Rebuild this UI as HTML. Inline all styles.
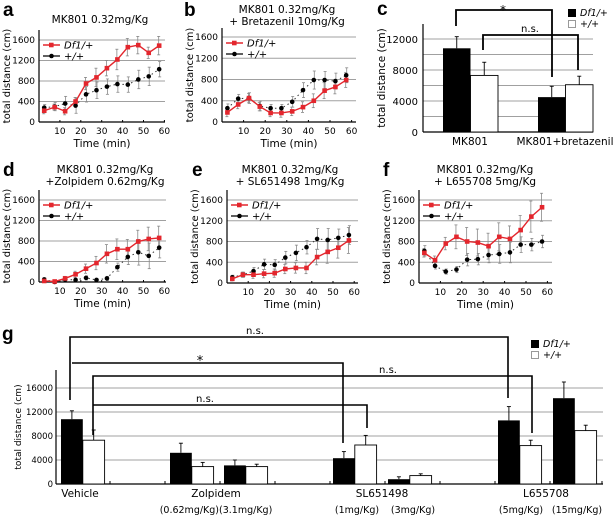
<!DOCTYPE html>
<html><head><meta charset="utf-8"><style>
html,body{margin:0;padding:0;background:#fff;}
svg{display:block;font-family:"DejaVu Sans","Liberation Sans",sans-serif;}
</style></head><body>
<svg id="fig" width="615" height="518" viewBox="0 0 615 518" xmlns="http://www.w3.org/2000/svg"></svg>
<script>
// ---- data ----
const times = [2.5,7.5,12.5,17.5,22.5,27.5,32.5,37.5,42.5,47.5,52.5,57.5];
const xTicks = [10,20,30,40,50,60];
const yTicksLine = [0,400,800,1200,1600];
const aDf = [220,290,210,400,750,870,1050,1220,1460,1500,1350,1490];
const aDfErr = [60,60,70,80,120,180,150,200,170,170,110,180];
const aWt = [280,300,360,320,540,620,690,740,730,830,890,1030];
const aWtErr = [60,80,140,150,150,160,150,160,150,180,180,150];
const bDf = [180,330,450,290,170,170,200,280,400,590,660,790];
const bDfErr = [80,80,90,80,70,80,80,100,130,150,130,140];
const bWt = [260,440,450,300,260,260,380,600,790,790,770,880];
const bWtErr = [80,80,100,90,70,70,100,140,170,160,150,140];
const dDf = [20,10,70,150,260,370,550,640,640,790,840,860];
const dDfErr = [30,20,40,60,90,130,180,200,190,220,230,230];
const dWt = [50,0,50,40,80,40,70,290,490,580,510,670];
const dWtErr = [30,20,30,30,40,30,40,80,150,250,250,200];
const eDf = [80,160,160,180,190,270,290,290,500,600,680,820];
const eDfErr = [40,50,70,80,80,90,100,110,150,220,200,250];
const eWt = [110,160,230,360,350,490,580,690,850,830,870,925];
const eWtErr = [40,50,70,100,100,120,150,130,200,220,170,180];
const fDf = [580,440,760,890,800,780,710,890,850,1020,1280,1460];
const fDfErr = [80,80,120,230,270,260,250,270,250,280,300,270];
const fWt = [620,330,220,260,450,460,540,560,590,740,740,800];
const fWtErr = [100,60,50,60,120,110,150,180,200,150,120,120];
const cCats = ["MK801","MK801+bretazenil"];
const cDf = [10800,4500];
const cDfErr = [1500,1400];
const cWt = [7300,6100];
const cWtErr = [1700,1100];
const cTicks = [0,4000,8000,12000];
const gDf = [10800,5200,3100,4300,800,10600,14300];
const gDfErr = [1400,1600,900,1100,400,2300,2700];
const gWt = [7300,2900,2900,6500,1400,6400,8900];
const gWtErr = [1700,700,400,1600,300,900,900];
const gTicks = [0,4000,8000,12000,16000];

const NS="http://www.w3.org/2000/svg";
const svg=document.getElementById('fig');
function mk(tag,attrs,parent){const e=document.createElementNS(NS,tag);for(const k in attrs)e.setAttribute(k,attrs[k]);(parent||svg).appendChild(e);return e;}
function txt(s,x,y,size,anchor,extra,parent){const t=mk('text',Object.assign({x:x,y:y,'font-size':size,'text-anchor':anchor||'middle',fill:'#000'},extra||{}),parent);t.textContent=s;return t;}

const RED="#e3262d";
function linePanel(P){
  const g=mk('g',{});
  
  
  const sx=t=>P.t0+P.per10*t/10;
  const sy=v=>P.y0-(P.y0-P.y16)*v/1600;
  const L=txt(P.id,P.lx,P.ly,19,'start',{'font-weight':'bold','font-family':'Liberation Sans,sans-serif'},g);
  
  
  P.title.forEach((s,i)=>{const t=txt(s,P.tx,P.ty+i*12,10.5,'middle',{},g);
    
    });
  yTicksLine.forEach(v=>{
    if(v>0){const gl=mk('line',{x1:P.t0,x2:P.right,y1:sy(v),y2:sy(v),stroke:'#a0a0a0','stroke-width':1},g);
      
      }
    const t=txt(String(v),P.t0-4,sy(v)+3,9,'end',{},g);
    
    
  });
  xTicks.forEach(v=>{const t=txt(String(v),sx(v),P.y0+12,9,'middle',{},g);
    
    
    mk('line',{x1:sx(v),x2:sx(v),y1:P.y0,y2:P.y0-2,stroke:'#000'},g);});
  mk('line',{x1:P.t0,x2:P.t0,y1:P.top,y2:P.y0,stroke:'#000','stroke-width':1.2},g);
  mk('line',{x1:P.t0,x2:P.right,y1:P.y0,y2:P.y0,stroke:'#000','stroke-width':1.2},g);
  const xt=txt('Time (min)',(P.t0+P.right)/2,P.y0+25,10.5,'middle',{},g);
  
  
  const yt=txt('total distance (cm)',0,0,10,'middle',{transform:`translate(${P.t0-29},${(P.top+P.y0)/2}) rotate(-90)`},g);
  
  
  function errs(vals,er,col,dx){vals.forEach((v,i)=>{const x=sx(times[i])+dx;
    mk('line',{x1:x,x2:x,y1:sy(v+er[i]),y2:sy(Math.max(0,v-er[i])),stroke:col,'stroke-width':0.8},g);
    mk('line',{x1:x-1.5,x2:x+1.5,y1:sy(v+er[i]),y2:sy(v+er[i]),stroke:col,'stroke-width':0.8},g);
    mk('line',{x1:x-1.5,x2:x+1.5,y1:sy(Math.max(0,v-er[i])),y2:sy(Math.max(0,v-er[i])),stroke:col,'stroke-width':0.8},g);});}
  errs(P.wt,P.wtErr,'#888',0.5);
  errs(P.df,P.dfErr,'#888',-0.5);
  const wl=mk('polyline',{points:P.wt.map((v,i)=>sx(times[i])+','+sy(v)).join(' '),fill:'none',stroke:'#333','stroke-width':1,'stroke-dasharray':'1.5,3'},g);
  
  
  P.wt.forEach((v,i)=>{const c=mk('circle',{cx:sx(times[i]),cy:sy(v),r:2.3,fill:'#000'},g);
    
    });
  const dl=mk('polyline',{points:P.df.map((v,i)=>sx(times[i])+','+sy(v)).join(' '),fill:'none',stroke:RED,'stroke-width':1.4},g);
  
  
  P.df.forEach((v,i)=>{const r=mk('rect',{x:sx(times[i])-2.3,y:sy(v)-2.3,width:4.6,height:4.6,fill:RED},g);
    
    });
  const lx=P.t0+4, ly=P.top+15;
  const lg=mk('g',{},g);
  
  
  mk('line',{x1:lx,x2:lx+17,y1:ly,y2:ly,stroke:RED,'stroke-width':1.4},lg);
  mk('rect',{x:lx+6,y:ly-2.3,width:4.6,height:4.6,fill:RED},lg);
  txt('Df1/+',lx+21,ly+3.5,10,'start',{'font-style':'italic'},lg);
  mk('line',{x1:lx,x2:lx+17,y1:ly+11,y2:ly+11,stroke:'#000','stroke-width':1.2},lg);
  mk('circle',{cx:lx+8.5,cy:ly+11,r:2.3,fill:'#000'},lg);
  txt('+/+',lx+21,ly+14.5,10,'start',{'font-style':'italic'},lg);
}
linePanel({id:'a',lx:3,ly:16,title:['MK801 0.32mg/Kg'],tx:100,ty:23,t0:39,per10:20.9,y0:122,y16:40,top:30,right:165,df:aDf,dfErr:aDfErr,wt:aWt,wtErr:aWtErr});
linePanel({id:'b',lx:184,ly:16,title:['MK801 0.32mg/Kg','+ Bretazenil 10mg/Kg'],tx:287,ty:13,t0:222,per10:21.6,y0:122,y16:37,top:28,right:356,df:bDf,dfErr:bDfErr,wt:bWt,wtErr:bWtErr});
linePanel({id:'d',lx:3,ly:176,title:['MK801 0.32mg/Kg','+Zolpidem 0.62mg/Kg'],tx:105,ty:173,t0:39,per10:20.9,y0:282,y16:200,top:190,right:166,df:dDf,dfErr:dDfErr,wt:dWt,wtErr:dWtErr});
linePanel({id:'e',lx:192,ly:176,title:['MK801 0.32mg/Kg','+ SL651498 1mg/Kg'],tx:290,ty:173,t0:227,per10:21.2,y0:283,y16:200,top:190,right:358,df:eDf,dfErr:eDfErr,wt:eWt,wtErr:eWtErr});
linePanel({id:'f',lx:383,ly:176,title:['MK801 0.32mg/Kg','+ L655708 5mg/Kg'],tx:485,ty:173,t0:419,per10:21.4,y0:283,y16:200,top:190,right:552,df:fDf,dfErr:fDfErr,wt:fWt,wtErr:fWtErr});

function barPair(g,sy,xL,w,dv,de,wv,we){
  const b1=mk('rect',{x:xL,y:sy(dv),width:w,height:sy(0)-sy(dv),fill:'#000'},g);
  
  
  const b2=mk('rect',{x:xL+w,y:sy(wv),width:w,height:sy(0)-sy(wv),fill:'#fff',stroke:'#000','stroke-width':0.9},g);
  
  
  [[xL+w/2,dv,de],[xL+1.5*w,wv,we]].forEach(([x,v,e])=>{
    mk('line',{x1:x,x2:x,y1:sy(v),y2:sy(v+e),stroke:'#000','stroke-width':0.9},g);
    mk('line',{x1:x-2,x2:x+2,y1:sy(v+e),y2:sy(v+e),stroke:'#000','stroke-width':0.9},g);});
}
function bracket(g,pts,w){mk('polyline',{points:pts.map(p=>p.join(',')).join(' '),fill:'none',stroke:'#000','stroke-width':w||1.8},g);}
function legendBox(g,x,y){
  const lg=mk('g',{},g);
  
  
  mk('rect',{x:x,y:y,width:8,height:8,fill:'#000'},lg);
  txt('Df1/+',x+12,y+7,9.5,'start',{'font-style':'italic'},lg);
  mk('rect',{x:x+0.5,y:y+11.5,width:7,height:7,fill:'#fff',stroke:'#999'},lg);
  txt('+/+',x+12,y+18,9.5,'start',{'font-style':'italic'},lg);
}

// ---- panel c ----
(function(){
  const g=mk('g',{});
  
  
  const y0=132, y12=39, ax=423, right=593;
  const sy=v=>y0-(y0-y12)*v/12000;
  const L=txt('c',377,15,19,'start',{'font-weight':'bold','font-family':'Liberation Sans,sans-serif'},g);
  
  
  for(let v=2000;v<=12000;v+=2000){mk('line',{x1:ax,x2:right,y1:sy(v),y2:sy(v),stroke:'#a0a0a0'},g);}
  cTicks.forEach(v=>{const t=txt(String(v),ax-5,sy(v)+4,10,'end',{},g);
    
    });
  mk('line',{x1:ax,x2:ax,y1:24,y2:y0,stroke:'#000','stroke-width':1.2},g);
  mk('line',{x1:ax,x2:right,y1:y0,y2:y0,stroke:'#000','stroke-width':1.2},g);
  const yt=txt('total distance (cm)',0,0,10.5,'middle',{transform:`translate(${ax-38},${(24+y0)/2}) rotate(-90)`},g);
  
  
  const xs=[443,538];
  cCats.forEach((c,i)=>{barPair(g,sy,xs[i],27.5,cDf[i],cDfErr[i],cWt[i],cWtErr[i]);
    const t=txt(c,xs[i]+27,y0+13,10.5,'middle',{},g);
    
    });
  bracket(g,[[456,26],[456,10],[552,10],[552,77]]);
  bracket(g,[[483,50],[483,35],[578,35],[578,70]]);
  txt('*',503,14,12,'middle',{},g);
  txt('n.s.',530,32,10,'middle',{},g);
  legendBox(g,568,9);
})();

// ---- panel g ----
(function(){
  const g=mk('g',{});
  
  
  const y0=484, y16=388, ax=56, right=603;
  const sy=v=>y0-(y0-y16)*v/16000;
  const L=txt('g',2,340,19,'start',{'font-weight':'bold','font-family':'Liberation Sans,sans-serif'},g);
  
  
  gTicks.forEach(v=>{ if(v>0) mk('line',{x1:ax,x2:right,y1:sy(v),y2:sy(v),stroke:'#a0a0a0'},g);
    const t=txt(String(v),ax-3,sy(v)+3,8.5,'end',{},g);
    
    });
  mk('line',{x1:ax,x2:ax,y1:370,y2:y0,stroke:'#000','stroke-width':1.2},g);
  mk('line',{x1:ax,x2:right,y1:y0,y2:y0,stroke:'#000','stroke-width':1.2},g);
  [110,165,220,275,330,385,440,495,550,602].forEach(x=>mk('line',{x1:x,x2:x,y1:y0,y2:y0-3,stroke:'#000'},g));
  const yt=txt('total distance (cm)',0,0,9,'middle',{transform:`translate(${ax-35},${(370+y0)/2}) rotate(-90)`},g);
  
  
  const xs=[61,170,224,333,388,498,553];
  gDf.forEach((v,i)=>barPair(g,sy,xs[i],21.8,v,gDfErr[i],gWt[i],gWtErr[i]));
  const labs=[['Vehicle',80,497,10.5],['Zolpidem',216,497,10.5],['(0.62mg/Kg)(3.1mg/Kg)',216,513,9.5],['SL651498',382,497,10.5],['(1mg/Kg)',357,513,9.5],['(3mg/Kg)',413,513,9.5],['L655708',546,497,10.5],['(5mg/Kg)',521,513,9.5],['(15mg/Kg)',577,513,9.5]];
  labs.forEach(l=>{const t=txt(l[0],l[1],l[2],l[3],'middle',{},g);
    
    });
  bracket(g,[[70,400],[70,337],[508,337],[508,398]],1.6);
  bracket(g,[[72,363],[343,363],[343,443]],1.6);
  bracket(g,[[93,435],[93,376],[532,376],[532,433]],1.6);
  bracket(g,[[93,405],[367,405],[367,428]],1.6);
  txt('n.s.',255,334,10,'middle',{},g);
  txt('*',200,365,13,'middle',{},g);
  txt('n.s.',388,373,10,'middle',{},g);
  txt('n.s.',205,402,10,'middle',{},g);
  legendBox(g,531,340);
})();
</script>
</body></html>
